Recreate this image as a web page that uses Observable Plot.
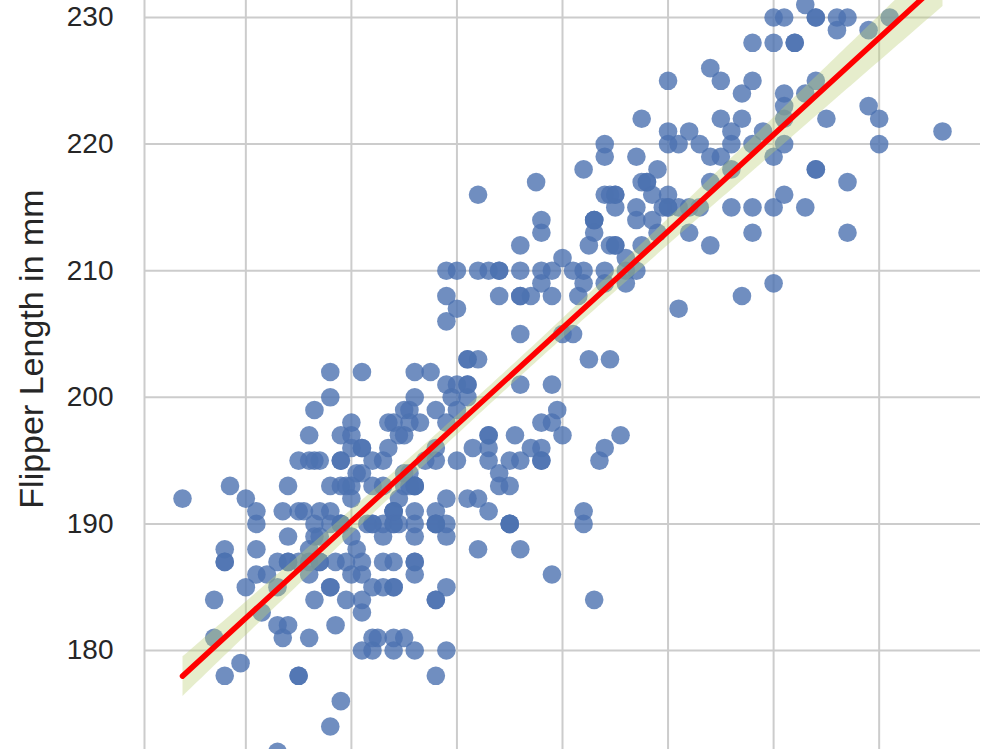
<!DOCTYPE html>
<html>
<head>
<meta charset="utf-8">
<script src="https://cdn.jsdelivr.net/npm/d3@7"></script>
<script src="https://cdn.jsdelivr.net/npm/@observablehq/plot@0.6"></script>
<style>
  html, body { margin: 0; padding: 0; background: white; }
  #chart { width: 1000px; height: 749px; overflow: hidden; }
  #chart svg { overflow: hidden; display: block; }
</style>
</head>
<body>
<div id="chart"></div>
<script>
// Body mass (g) and flipper length (mm)
const adelieMass = [3750,3800,3250,3450,3650,3625,4675,3475,4250,3300,3700,3200,3800,4400,3700,3450,4500,3325,4200,
3400,3600,3800,3950,3800,3800,3550,3200,3150,3950,
3250,3900,3300,3900,3325,4150,3950,3550,3300,4650,3150,3900,3100,4400,3000,4600,3425,2975,3450,4150,
3500,4300,3450,4050,2900,3700,3550,3800,2850,3750,3150,4400,3600,4050,2850,3950,3350,4100,
3050,4450,3600,3900,3550,4150,3700,4250,3700,3900,3550,4000,3200,4700,3800,4200,
3350,3550,3800,3500,3950,3600,3550,4300,3400,4450,3300,4300,3700,4350,2900,4100,
3725,4725,3075,4250,2925,3550,3750,3900,3175,4775,3825,4600,3200,4275,3900,4075,
2900,3775,3350,3325,3150,3500,3450,3875,3050,4000,3275,4300,3050,4000,3325,3500,
3500,4475,3425,3900,3175,3975,3400,4250,3400,3475,3050,3725,3000,3650,4250,3475,3450,3750,3700,4000];
const adelieFlipper = [181,186,195,193,190,181,195,193,190,186,180,182,191,198,185,195,197,184,194,
174,180,189,185,180,187,183,187,172,180,
178,178,188,184,195,196,190,180,181,184,182,195,186,196,185,190,182,179,190,191,
186,188,190,200,187,191,186,193,181,194,185,195,185,192,184,192,195,188,
190,198,190,190,196,197,190,195,191,184,187,195,189,196,187,193,
191,194,190,189,189,190,202,205,185,186,187,208,190,196,178,192,
192,203,183,190,193,184,199,190,181,197,198,191,193,197,191,196,
188,199,189,189,187,198,176,202,186,199,191,195,191,210,190,197,
193,199,187,190,191,200,185,193,193,187,188,190,192,185,190,184,195,193,187,201];

const chinstrapMass = [3500,3900,3650,3525,3725,3950,3250,3750,4150,3700,3800,3775,3700,4050,3575,4050,3300,3700,3450,4400,
3600,3400,2900,3800,3300,4150,3400,3800,3700,4550,3200,4300,3350,4100,3600,3900,3850,4800,2700,4500,
3950,3650,3550,3500,3675,4450,3400,4300,3250,3675,3325,3950,3600,4050,3350,3450,3250,4050,3800,3525,
3950,3650,3650,4000,3400,3775,4100,3775];
const chinstrapFlipper = [192,196,193,188,197,198,178,197,195,198,193,194,185,201,190,201,197,181,190,195,
181,191,187,193,195,197,200,200,191,205,187,201,187,203,195,199,195,210,192,205,
210,187,196,196,196,201,190,212,187,198,199,201,193,203,187,197,191,203,202,194,
206,189,195,207,202,193,210,198];

const gentooMass = [4500,5700,4450,5700,5400,4550,4800,5200,4400,5150,4650,5550,4650,5850,4200,5850,4150,6300,4800,5350,
5700,5000,4400,5050,5000,5100,4100,5650,4600,5550,5250,4700,5050,6050,5150,5400,4950,5250,4350,5350,
3950,5700,4300,4750,5550,4900,4200,5400,5100,5300,4850,5300,4400,5000,4900,5050,4300,5000,4450,5550,
4200,5300,4400,5650,4700,5700,4650,5800,4700,5550,4750,5000,5100,5200,4700,5800,4600,6000,4750,5950,
4625,5450,4725,5350,4750,5600,4600,5300,4875,5550,4950,5400,4750,5650,4850,5200,4925,4875,4625,5250,
4850,5600,4975,5500,4725,5500,4700,5500,4575,5500,5000,5950,4650,5500,4375,5850,4875,6000,4925,
4850,5750,5200,5400];
const gentooFlipper = [211,230,210,218,215,210,211,219,209,215,214,216,214,213,210,217,210,221,209,222,
218,215,213,215,215,215,216,215,210,220,222,209,207,230,220,220,213,219,208,208,
208,225,210,216,222,217,210,225,213,215,210,220,210,225,217,220,208,220,208,224,
208,221,214,231,219,230,214,229,220,223,216,221,221,217,216,230,209,220,215,223,
212,221,212,224,212,228,218,218,212,230,218,228,212,224,214,226,216,222,203,225,
219,228,215,228,216,215,210,219,208,209,216,229,213,230,217,230,217,222,214,
215,222,212,213];

const xTicks = [3000, 3500, 4000, 4500, 5000, 5500, 6000];
const yTicks = [180, 190, 200, 210, 220, 230];
const yLabel = ["Flipper Length in mm"];

const data = [];
[[adelieMass, adelieFlipper], [chinstrapMass, chinstrapFlipper], [gentooMass, gentooFlipper]]
  .forEach(([m, f]) => m.forEach((v, i) => data.push({mass: v, flipper: f[i]})));

const font = "'Liberation Sans', Arial, 'DejaVu Sans', sans-serif";
const gridColor = "#cccccc";

const chart = Plot.plot({
  width: 1000,
  height: 749,
  marginLeft: 144,
  marginRight: 20,
  marginTop: 0,
  marginBottom: 0,
  x: {domain: [2520, 6480], range: [144, 980], axis: null},
  y: {domain: [180, 230], range: [650, 17], axis: null},
  style: {fontFamily: font, color: "#262626", background: "white", overflow: "hidden"},
  marks: [
    Plot.gridX(xTicks, {stroke: gridColor, strokeOpacity: 1, strokeWidth: 2}),
    Plot.gridY(yTicks, {stroke: gridColor, strokeOpacity: 1, strokeWidth: 2}),
    Plot.frame({anchor: "left", stroke: gridColor, strokeOpacity: 1, strokeWidth: 2}),
    Plot.axisY(yTicks, {tickSize: 0, tickPadding: 31, fontSize: 28, label: null, fill: "#262626"}),
    Plot.dot(data, {x: "mass", y: "flipper", r: 9.3, fill: "#4c72b0", fillOpacity: 0.8, stroke: "none"}),
    Plot.linearRegressionY(data, {x: "mass", y: "flipper", stroke: "#ff0000", strokeWidth: 5.5, fill: "#bccf7a", fillOpacity: 0.38, ci: 0.95}),
    Plot.text(yLabel, {frameAnchor: "left", text: d => d, rotate: -90, textAnchor: "middle", lineAnchor: "middle", dx: -112, dy: -26, fontSize: 34, fill: "#262626"})
  ]
});
document.getElementById("chart").appendChild(chart);
</script>
</body>
</html>
